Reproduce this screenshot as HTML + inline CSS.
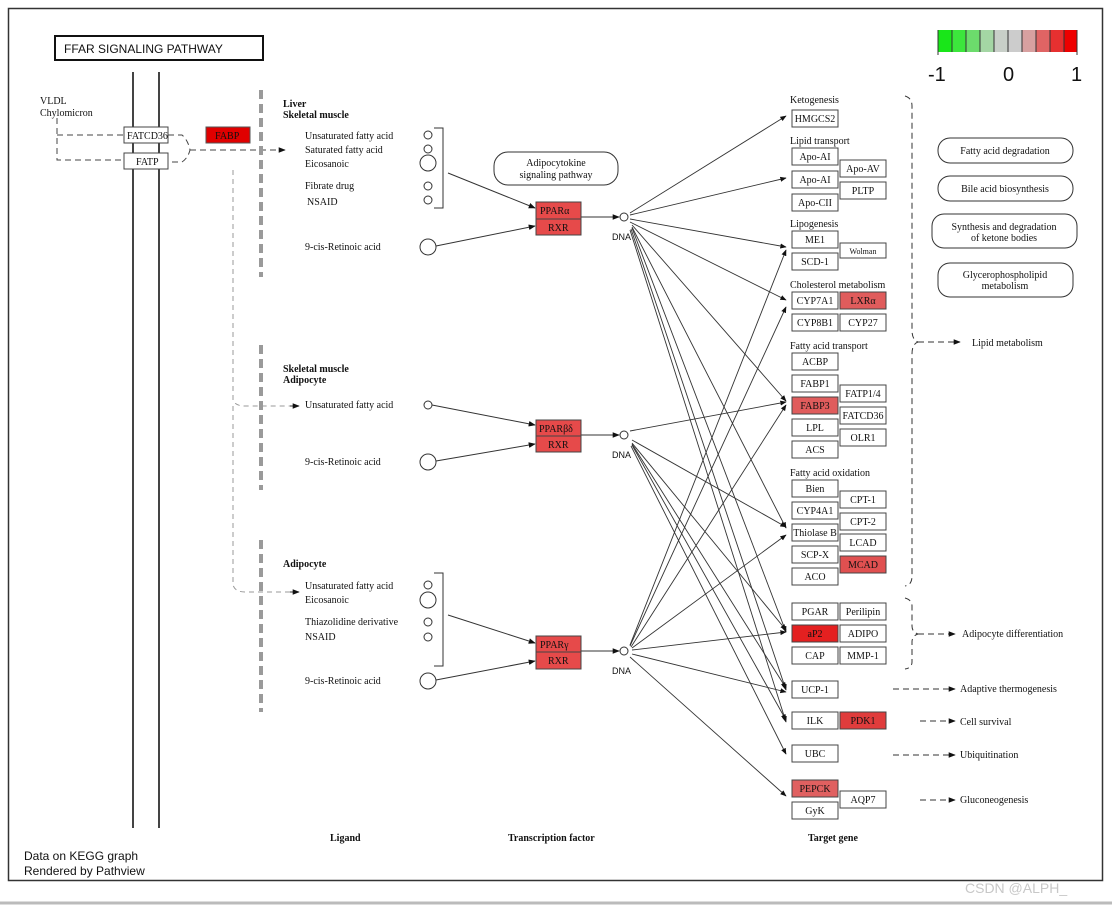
<!DOCTYPE html>
<html><head><meta charset="utf-8"><style>
html,body{margin:0;padding:0;background:#fff;}
svg{display:block;}
text{font-family:"Liberation Serif",serif;font-size:10px;fill:#111;}
.b{font-weight:bold;}
.s{font-family:"Liberation Sans",sans-serif;}
</style></head><body>
<svg width="1112" height="906" viewBox="0 0 1112 906" xmlns="http://www.w3.org/2000/svg">
<defs>
<marker id="a" viewBox="0 0 10 10" refX="9" refY="5" markerWidth="7" markerHeight="7" orient="auto"><path d="M0,1 L10,5 L0,9 z" fill="#111"/></marker>
</defs>
<rect x="0" y="0" width="1112" height="906" fill="#fff"/>
<rect x="8.5" y="8.5" width="1094" height="872" fill="none" stroke="#333" stroke-width="1.5"/>
<line x1="0" y1="903" x2="1112" y2="903" stroke="#bbb" stroke-width="3"/>

<!-- title -->
<rect x="55" y="36" width="208" height="24" fill="#fff" stroke="#111" stroke-width="2"/>
<text x="64" y="53" class="s" style="font-size:12px">FFAR  SIGNALING  PATHWAY</text>

<!-- legend -->
<g stroke="#333" stroke-width="1">
<rect x="938" y="30" width="14" height="22" fill="#19e619" stroke="none"/>
<rect x="952" y="30" width="14" height="22" fill="#3ce63c" stroke="none"/>
<rect x="966" y="30" width="14" height="22" fill="#6cdc6c" stroke="none"/>
<rect x="980" y="30" width="14" height="22" fill="#a4d6a4" stroke="none"/>
<rect x="994" y="30" width="14" height="22" fill="#c8cfc8" stroke="none"/>
<rect x="1008" y="30" width="14" height="22" fill="#cccccc" stroke="none"/>
<rect x="1022" y="30" width="14" height="22" fill="#d8a0a0" stroke="none"/>
<rect x="1036" y="30" width="14" height="22" fill="#e06464" stroke="none"/>
<rect x="1050" y="30" width="14" height="22" fill="#e63030" stroke="none"/>
<rect x="1064" y="30" width="13" height="22" fill="#ee0000" stroke="none"/>
<line x1="938" y1="30" x2="938" y2="55"/><line x1="952" y1="30" x2="952" y2="52"/><line x1="966" y1="30" x2="966" y2="52"/><line x1="980" y1="30" x2="980" y2="52"/><line x1="994" y1="30" x2="994" y2="52"/><line x1="1008" y1="30" x2="1008" y2="52"/><line x1="1022" y1="30" x2="1022" y2="52"/><line x1="1036" y1="30" x2="1036" y2="52"/><line x1="1050" y1="30" x2="1050" y2="52"/><line x1="1064" y1="30" x2="1064" y2="52"/><line x1="1077" y1="30" x2="1077" y2="55"/>
</g>
<text x="928" y="81" class="s" style="font-size:20px">-1</text>
<text x="1003" y="81" class="s" style="font-size:20px">0</text>
<text x="1071" y="81" class="s" style="font-size:20px">1</text>

<!-- membrane -->
<line x1="133" y1="72" x2="133" y2="828" stroke="#444" stroke-width="2"/>
<line x1="159" y1="72" x2="159" y2="828" stroke="#444" stroke-width="2"/>
<text x="40" y="104">VLDL</text><text x="40" y="116">Chylomicron</text>
<g fill="none" stroke="#444" stroke-dasharray="6,4">
<path d="M57,118 V160 H124"/><path d="M57,135 H124"/>
<path d="M168,135 H182 Q188,140 190,150 Q188,158 182,162 H168"/>
<line x1="190" y1="150" x2="285" y2="150" marker-end="url(#a)"/>
</g>
<rect x="124" y="127" width="44" height="16" fill="#fff" stroke="#444"/><text x="127" y="139">FATCD36</text>
<rect x="124" y="153" width="44" height="16" fill="#fff" stroke="#444"/><text x="136" y="165">FATP</text>
<rect x="206" y="127" width="44" height="16" fill="#e00000" stroke="#555"/><text x="215" y="139" fill="#a00">FABP</text>

<!-- gray dashed separators -->
<g stroke="#9a9a9a" stroke-width="4" stroke-dasharray="9,5">
<line x1="261" y1="90" x2="261" y2="277"/>
<line x1="261" y1="345" x2="261" y2="490"/>
<line x1="261" y1="540" x2="261" y2="712"/>
</g>
<g fill="none" stroke="#999" stroke-dasharray="5,4">
<path d="M233,170 V400 Q235,406 245,406 H298" /><path d="M233,406 V585 Q235,592 245,592 H298"/>
</g>
<line x1="290" y1="406" x2="299" y2="406" stroke="#333" marker-end="url(#a)"/>
<line x1="290" y1="592" x2="299" y2="592" stroke="#333" marker-end="url(#a)"/>

<!-- ligand group 1 -->
<text x="283" y="107" class="b">Liver</text><text x="283" y="118" class="b">Skeletal muscle</text>
<text x="305" y="139">Unsaturated fatty acid</text>
<text x="305" y="153">Saturated fatty acid</text>
<text x="305" y="167">Eicosanoic</text>
<text x="305" y="189">Fibrate drug</text>
<text x="307" y="205">NSAID</text>
<text x="305" y="250">9-cis-Retinoic acid</text>
<g fill="#fff" stroke="#333">
<circle cx="428" cy="135" r="4"/><circle cx="428" cy="149" r="4"/><circle cx="428" cy="163" r="8"/><circle cx="428" cy="186" r="4"/><circle cx="428" cy="200" r="4"/><circle cx="428" cy="247" r="8"/>
</g>
<path d="M434,128 H443 V208 H434" fill="none" stroke="#333"/>

<!-- ligand group 2 -->
<text x="283" y="372" class="b">Skeletal muscle</text><text x="283" y="383" class="b">Adipocyte</text>
<text x="305" y="408">Unsaturated fatty acid</text>
<text x="305" y="465">9-cis-Retinoic acid</text>
<g fill="#fff" stroke="#333"><circle cx="428" cy="405" r="4"/><circle cx="428" cy="462" r="8"/></g>

<!-- ligand group 3 -->
<text x="283" y="567" class="b">Adipocyte</text>
<text x="305" y="589">Unsaturated fatty acid</text>
<text x="305" y="603">Eicosanoic</text>
<text x="305" y="625">Thiazolidine derivative</text>
<text x="305" y="640">NSAID</text>
<text x="305" y="684">9-cis-Retinoic acid</text>
<g fill="#fff" stroke="#333"><circle cx="428" cy="585" r="4"/><circle cx="428" cy="600" r="8"/><circle cx="428" cy="622" r="4"/><circle cx="428" cy="637" r="4"/><circle cx="428" cy="681" r="8"/></g>
<path d="M434,573 H443 V666 H434" fill="none" stroke="#333"/>

<!-- adipocytokine -->
<rect x="494" y="152" width="124" height="33" rx="14" fill="#fff" stroke="#333"/>
<text x="556" y="166" text-anchor="middle">Adipocytokine</text><text x="556" y="178" text-anchor="middle">signaling pathway</text>

<!-- transcription factors -->
<g stroke="#333" stroke-width="1">
<line x1="448" y1="173" x2="535" y2="208" marker-end="url(#a)"/>
<line x1="436" y1="246" x2="535" y2="226" marker-end="url(#a)"/>
<line x1="432" y1="405" x2="535" y2="425" marker-end="url(#a)"/>
<line x1="436" y1="461" x2="535" y2="444" marker-end="url(#a)"/>
<line x1="448" y1="615" x2="535" y2="643" marker-end="url(#a)"/>
<line x1="436" y1="680" x2="535" y2="661" marker-end="url(#a)"/>
<line x1="581" y1="217" x2="619" y2="217" marker-end="url(#a)"/>
<line x1="581" y1="435" x2="619" y2="435" marker-end="url(#a)"/>
<line x1="581" y1="651" x2="619" y2="651" marker-end="url(#a)"/>
</g>
<rect x="536" y="202" width="45" height="17" fill="#e64a4a" stroke="#444"/><text x="540" y="214">PPARα</text>
<rect x="536" y="219" width="45" height="16" fill="#e64a4a" stroke="#444"/><text x="548" y="231">RXR</text>
<rect x="536" y="420" width="45" height="16" fill="#e64a4a" stroke="#444"/><text x="539" y="432">PPARβδ</text>
<rect x="536" y="436" width="45" height="16" fill="#e64a4a" stroke="#444"/><text x="548" y="448">RXR</text>
<rect x="536" y="636" width="45" height="16" fill="#e64a4a" stroke="#444"/><text x="540" y="648">PPARγ</text>
<rect x="536" y="652" width="45" height="17" fill="#e64a4a" stroke="#444"/><text x="548" y="664">RXR</text>
<g fill="#fff" stroke="#333"><circle cx="624" cy="217" r="4"/><circle cx="624" cy="435" r="4"/><circle cx="624" cy="651" r="4"/></g>
<text x="612" y="240" class="s" style="font-size:9px">DNA</text>
<text x="612" y="458" class="s" style="font-size:9px">DNA</text>
<text x="612" y="674" class="s" style="font-size:9px">DNA</text>

<!-- DNA arrows -->
<g stroke="#333" stroke-width="0.9" fill="none" marker-end="url(#a)">
<line x1="630" y1="213" x2="786" y2="116"/>
<line x1="630" y1="215" x2="786" y2="178"/>
<line x1="630" y1="219" x2="786" y2="247"/>
<line x1="630" y1="222" x2="786" y2="300"/>
<line x1="632" y1="225" x2="786" y2="401"/>
<line x1="632" y1="227" x2="786" y2="528"/>
<line x1="632" y1="228" x2="786" y2="632"/>
<line x1="631" y1="229" x2="786" y2="690"/>
<line x1="630" y1="230" x2="786" y2="722"/>
<line x1="630" y1="431" x2="786" y2="402"/>
<line x1="632" y1="440" x2="786" y2="527"/>
<line x1="632" y1="443" x2="786" y2="630"/>
<line x1="632" y1="444" x2="786" y2="688"/>
<line x1="632" y1="445" x2="786" y2="720"/>
<line x1="631" y1="446" x2="786" y2="754"/>
<line x1="630" y1="645" x2="786" y2="250"/>
<line x1="630" y1="646" x2="786" y2="307"/>
<line x1="631" y1="647" x2="786" y2="405"/>
<line x1="632" y1="648" x2="786" y2="535"/>
<line x1="632" y1="650" x2="786" y2="632"/>
<line x1="632" y1="654" x2="786" y2="692"/>
<line x1="630" y1="657" x2="786" y2="796"/>
</g>

<!-- target genes -->
<g style="font-size:9px">
<text x="790" y="103">Ketogenesis</text>
<text x="790" y="144">Lipid transport</text>
<text x="790" y="227">Lipogenesis</text>
<text x="790" y="288">Cholesterol metabolism</text>
<text x="790" y="349">Fatty acid transport</text>
<text x="790" y="476">Fatty acid oxidation</text>
</g>
<g stroke="#444" fill="#fff">
<rect x="792" y="110" width="46" height="17"/>
<rect x="792" y="148" width="46" height="17"/><rect x="840" y="160" width="46" height="17"/>
<rect x="792" y="171" width="46" height="17"/><rect x="840" y="182" width="46" height="17"/>
<rect x="792" y="194" width="46" height="17"/>
<rect x="792" y="231" width="46" height="17"/><rect x="840" y="243" width="46" height="15"/>
<rect x="792" y="253" width="46" height="17"/>
<rect x="792" y="292" width="46" height="17"/><rect x="840" y="292" width="46" height="17" fill="#e05c5c"/>
<rect x="792" y="314" width="46" height="17"/><rect x="840" y="314" width="46" height="17"/>
<rect x="792" y="353" width="46" height="17"/>
<rect x="792" y="375" width="46" height="17"/><rect x="840" y="385" width="46" height="17"/>
<rect x="792" y="397" width="46" height="17" fill="#e05c5c"/><rect x="840" y="407" width="46" height="17"/>
<rect x="792" y="419" width="46" height="17"/><rect x="840" y="429" width="46" height="17"/>
<rect x="792" y="441" width="46" height="17"/>
<rect x="792" y="480" width="46" height="17"/><rect x="840" y="491" width="46" height="17"/>
<rect x="792" y="502" width="46" height="17"/><rect x="840" y="513" width="46" height="17"/>
<rect x="792" y="524" width="46" height="17"/><rect x="840" y="534" width="46" height="17"/>
<rect x="792" y="546" width="46" height="17"/><rect x="840" y="556" width="46" height="17" fill="#e05050"/>
<rect x="792" y="568" width="46" height="17"/>
<rect x="792" y="603" width="46" height="17"/><rect x="840" y="603" width="46" height="17"/>
<rect x="792" y="625" width="46" height="17" fill="#e42020"/><rect x="840" y="625" width="46" height="17"/>
<rect x="792" y="647" width="46" height="17"/><rect x="840" y="647" width="46" height="17"/>
<rect x="792" y="681" width="46" height="17"/>
<rect x="792" y="712" width="46" height="17"/><rect x="840" y="712" width="46" height="17" fill="#e03c3c"/>
<rect x="792" y="745" width="46" height="17"/>
<rect x="792" y="780" width="46" height="17" fill="#e06060"/><rect x="840" y="791" width="46" height="17"/>
<rect x="792" y="802" width="46" height="17"/>
</g>
<g text-anchor="middle">
<text x="815" y="122">HMGCS2</text>
<text x="815" y="160">Apo-AI</text><text x="863" y="172">Apo-AV</text>
<text x="815" y="183">Apo-AI</text><text x="863" y="194">PLTP</text>
<text x="815" y="206">Apo-CII</text>
<text x="815" y="243">ME1</text><text x="863" y="254" style="font-size:8px">Wolman</text>
<text x="815" y="265">SCD-1</text>
<text x="815" y="304">CYP7A1</text><text x="863" y="304" fill="#700">LXRα</text>
<text x="815" y="326">CYP8B1</text><text x="863" y="326">CYP27</text>
<text x="815" y="365">ACBP</text>
<text x="815" y="387">FABP1</text><text x="863" y="397">FATP1/4</text>
<text x="815" y="409" fill="#700">FABP3</text><text x="863" y="419">FATCD36</text>
<text x="815" y="431">LPL</text><text x="863" y="441">OLR1</text>
<text x="815" y="453">ACS</text>
<text x="815" y="492">Bien</text><text x="863" y="503">CPT-1</text>
<text x="815" y="514">CYP4A1</text><text x="863" y="525">CPT-2</text>
<text x="815" y="536">Thiolase B</text><text x="863" y="546">LCAD</text>
<text x="815" y="558">SCP-X</text><text x="863" y="568" fill="#700">MCAD</text>
<text x="815" y="580">ACO</text>
<text x="815" y="615">PGAR</text><text x="863" y="615">Perilipin</text>
<text x="815" y="637" fill="#900">aP2</text><text x="863" y="637">ADIPO</text>
<text x="815" y="659">CAP</text><text x="863" y="659">MMP-1</text>
<text x="815" y="693">UCP-1</text>
<text x="815" y="724">ILK</text><text x="863" y="724" fill="#700">PDK1</text>
<text x="815" y="757">UBC</text>
<text x="815" y="792" fill="#700">PEPCK</text><text x="863" y="803">AQP7</text>
<text x="815" y="814">GyK</text>
</g>

<!-- brackets and outputs -->
<g fill="none" stroke="#333" stroke-dasharray="6,4">
<path d="M905,96 Q912,98 912,106 V330 Q912,340 918,342 Q912,344 912,354 V576 Q912,585 905,586"/>
<path d="M905,598 Q912,600 912,606 V626 Q912,632 918,634 Q912,636 912,642 V662 Q912,668 905,669"/>
<line x1="918" y1="342" x2="960" y2="342" marker-end="url(#a)"/>
<line x1="918" y1="634" x2="955" y2="634" marker-end="url(#a)"/>
<line x1="893" y1="689" x2="955" y2="689" marker-end="url(#a)"/>
<line x1="920" y1="721" x2="955" y2="721" marker-end="url(#a)"/>
<line x1="893" y1="755" x2="955" y2="755" marker-end="url(#a)"/>
<line x1="920" y1="800" x2="955" y2="800" marker-end="url(#a)"/>
</g>
<text x="972" y="346">Lipid metabolism</text>
<text x="962" y="637">Adipocyte differentiation</text>
<text x="960" y="692">Adaptive thermogenesis</text>
<text x="960" y="725">Cell survival</text>
<text x="960" y="758">Ubiquitination</text>
<text x="960" y="803">Gluconeogenesis</text>

<g fill="#fff" stroke="#333">
<rect x="938" y="138" width="135" height="25" rx="12"/>
<rect x="938" y="176" width="135" height="25" rx="12"/>
<rect x="932" y="214" width="145" height="34" rx="12"/>
<rect x="938" y="263" width="135" height="34" rx="12"/>
</g>
<g text-anchor="middle">
<text x="1005" y="154">Fatty acid degradation</text>
<text x="1005" y="192">Bile acid biosynthesis</text>
<text x="1004" y="230">Synthesis and degradation</text><text x="1004" y="241">of ketone bodies</text>
<text x="1005" y="278">Glycerophospholipid</text><text x="1005" y="289">metabolism</text>
</g>

<!-- bottom labels -->
<text x="330" y="841" class="b">Ligand</text>
<text x="508" y="841" class="b">Transcription factor</text>
<text x="808" y="841" class="b">Target gene</text>
<text x="24" y="860" class="s" style="font-size:12px">Data on KEGG graph</text>
<text x="24" y="875" class="s" style="font-size:12px">Rendered by Pathview</text>
<text x="965" y="893" class="s" style="font-size:14px;fill:#c8c8c8">CSDN @ALPH_</text>
</svg>
</body></html>
